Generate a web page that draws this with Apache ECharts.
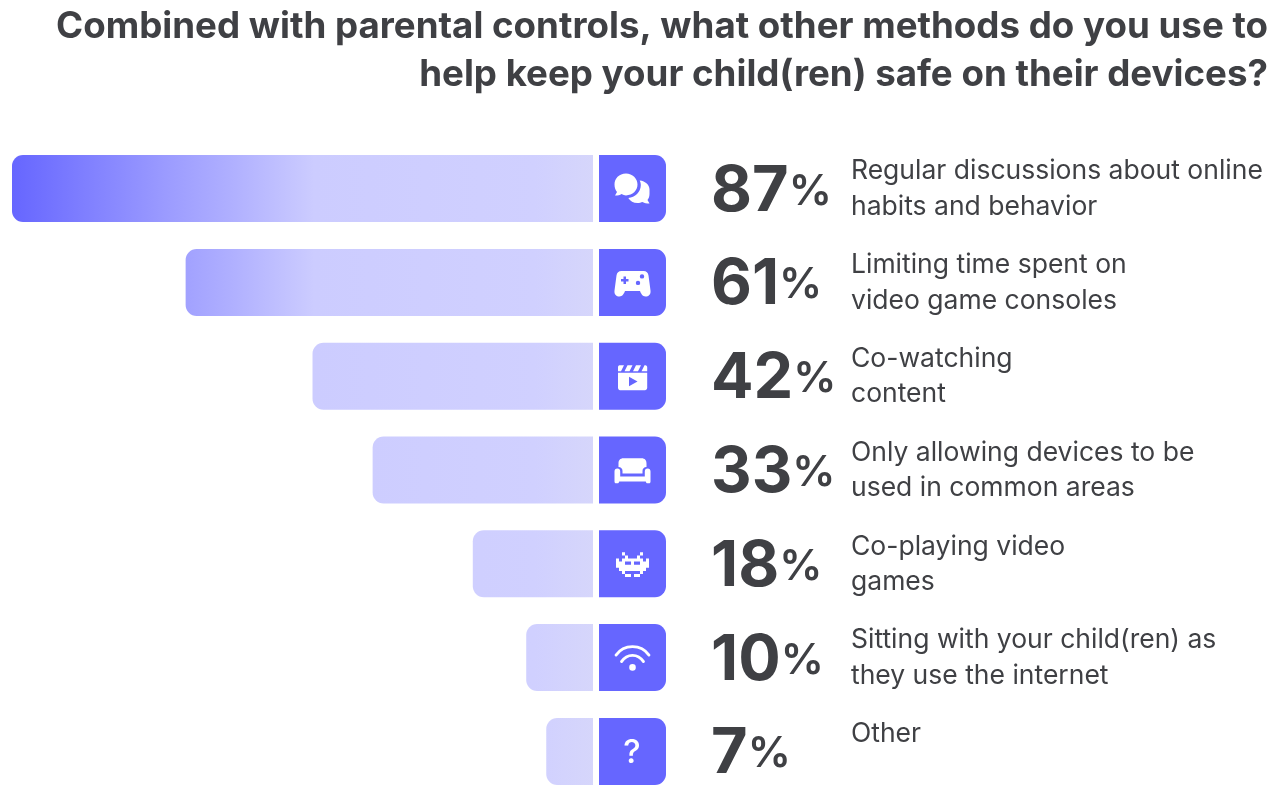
<!DOCTYPE html>
<html><head><meta charset="utf-8">
<style>html,body{margin:0;padding:0;background:#fff}#c{width:1280px;height:800px}</style>
<script src="https://cdn.jsdelivr.net/npm/echarts@6/dist/echarts.min.js"></script>
</head><body><div id="c"></div>
<script>
const titleText = "Combined with parental controls, what other methods do you use to\nhelp keep your child(ren) safe on their devices?";
const categories = ["Regular discussions about online\nhabits and behavior","Limiting time spent on\nvideo game consoles","Co-watching\ncontent","Only allowing devices to be\nused in common areas","Co-playing video\ngames","Sitting with your child(ren) as\nthey use the internet","Other"];
const values = [87,61,42,33,18,10,7];
const iconNames = ["chat","pad","clap","sofa","invader","wifi","help"];

const TILE = "#6666ff", INK = "#3f4044";
const FRAME = "M0 0L0 0M40 40L40 40";
const invaderRows = ["..#.....#..","...#...#...","#.#######.#","###..#..###","###########",".#########.","..#.....#..","...##.##..."];
function invaderPath(){
  let d = "";
  invaderRows.forEach((row,r)=>{[...row].forEach((c,k)=>{
    if(c==="#"){const x=3.5+k*3,y=8.5+r*3.1;d+=`M${x} ${y}h3v3.1h-3z`;}
  });});
  return d;
}
const ICONS = {
  chat:[["w","M13.500 5C6.500 5 2 10 2 16C2 19 3 21.500 4.500 23.500L2.500 27C5.500 27 7.500 26.500 9 25.500C10.500 26.300 12 26.800 13.500 26.800C20 26.800 25 22 25 16C25 10 20 5 13.500 5Z"],
        ["w","M27.200 12C28 13.500 28.300 15 28.300 16.500C28.300 23.500 22.500 29 15.800 29.500C17.500 32.500 21 34.500 25 34.500C27 34.500 28.500 34 30 33.500C32 34.500 34 35 37 35L35 31.500C36.200 30 37 28 37 25.500V21C37 16.500 33 12.500 27.200 12Z"]],
  pad:[["w","M9 8.500H31C34 8.500 35.500 10 36 13L38 28C38.500 32 36 34 33 34C30 34 28.500 31 27.500 28.500H12.500C11.500 31 10 34 7 34C4 34 1.500 32 2 28L4 13C4.500 10 6 8.500 9 8.500Z"],
       ["t","M8.500 16.500H11V14H13.500V16.500H16V19H13.500V21.500H11V19H8.500Z"],
       ["t","M29.500 11.800a2.200 2.200 0 1 0 0.010 0Z"],
       ["t","M25.500 18.300a2.200 2.200 0 1 0 0.010 0Z"]],
  clap:[["w","M7 9H11.500L8.500 15H5.500V11C5.500 10 6 9 7 9ZM15 9H20L17 15H12ZM23.500 9H28.500L25.500 15H20.500ZM32 9H33C34 9 34.700 10 34.700 11V15H29Z"],
        ["w","M5.500 16.500H34.700V31.500C34.700 33 33.500 34 32.500 34H7.500C6.500 34 5.500 33 5.500 31.500Z"],
        ["t","M16.500 20.500L25 25.300L16.500 30Z"]],
  sofa:[["w","M11 8.300H29C32.500 8.300 34 10.500 34 13.500V17C31.500 17.200 30 18.500 30 21V23.500H10V21C10 18.500 8.500 17.200 6 17V13.500C6 10.500 7.500 8.300 11 8.300Z"],
        ["w","M4.800 18.500C6.800 18.500 7.700 19.500 7.700 21.500V26.500H32.300V21.500C32.300 19.500 33.200 18.500 35.200 18.500C37 18.500 38 19.500 38 21.500V31.500C38 32.500 37.500 33.300 36.500 33.300H35C34 33.300 33.500 32.500 33.300 31.500H6.700C6.500 32.500 6 33.300 5 33.300H3.500C2.500 33.300 2 32.500 2 31.500V21.500C2 19.500 3 18.500 4.800 18.500Z"]],
  invader:[["w",invaderPath()]],
  wifi:[["s","M3.500 17.500C8 11 14 9 20 9C26 9 32 11 36.500 17.500"],
        ["s","M9 24C12 19.500 16 17.700 20 17.700C24 17.700 28 19.500 31 24"],
        ["w","M20 26.500a3.300 3.300 0 1 0 0.010 0Z"]],
  help:[]
};

const chart = echarts.init(document.getElementById("c"));
const barFill = new echarts.graphic.LinearGradient(12,0,593,0,[
  {offset:0,color:"#6666ff"},{offset:0.27,color:"#9c9cff"},{offset:0.38,color:"#b0b0ff"},
  {offset:0.47,color:"#c2c2ff"},{offset:0.52,color:"#ccccff"},{offset:0.9,color:"#d0d0ff"},{offset:1,color:"#d6d6fb"}],true);

function renderRow(params, api){
  const i = api.value(1);
  const p = api.coord([0,i]);
  const bandH = api.size([0,1])[1];
  const tileH = bandH*0.714, tileW = 67, cx = p[0]+tileW/2, cy = p[1];
  const kids = [{type:"rect",shape:{x:p[0],y:cy-tileH/2,width:tileW,height:tileH,r:[0,11,11,0]},style:{fill:TILE}}];
  const name = iconNames[i];
  ICONS[name].forEach(l=>{
    const isStroke = l[0]==="s";
    kids.push({type:"path",shape:{pathData:FRAME+l[1],x:cx-20,y:cy-20,width:40,height:40,layout:"cover"},
      style:{fill:isStroke?"none":(l[0]==="w"?"#fff":TILE),stroke:isStroke?"#fff":"none",lineWidth:isStroke?2.8:0,lineCap:"round"}});
  });
  if(name==="help") kids.push({type:"text",x:cx-0.5,y:cy+2,style:{text:"?",fill:"#fff",font:"500 33px Inter",textAlign:"center",textVerticalAlign:"middle"}});
  kids.push({type:"text",x:p[0]+112,y:cy+3,style:{
    text:`{n|${values[i]}}{p|%}`,textAlign:"left",textVerticalAlign:"middle",
    rich:{n:{font:"700 63px Inter",fill:INK,lineHeight:70},
          p:{font:"600 43px Inter",fill:INK,lineHeight:70}}}});
  kids.push({type:"text",x:p[0]+252,y:cy-35,style:{text:categories[i],fill:INK,font:"400 26.500px Inter",lineHeight:35.5,textAlign:"left",textVerticalAlign:"top"}});
  return {type:"group",children:kids};
}

chart.setOption({
  animation:false,
  title:{text:titleText,left:1263,top:-2,textAlign:"right",textStyle:{fontFamily:"Inter",fontWeight:700,fontSize:36.7,color:INK,lineHeight:48}},
  grid:[{left:12,width:581,top:141.7,height:656.6},{left:599,width:67,top:141.7,height:656.6}],
  xAxis:[
    {gridIndex:0,type:"value",min:0,max:87,inverse:true,show:false},
    {gridIndex:1,type:"value",min:0,max:1,show:false}],
  yAxis:[
    {gridIndex:0,type:"category",data:categories,inverse:true,show:false},
    {gridIndex:1,type:"category",data:categories,inverse:true,show:false}],
  series:[
    {type:"bar",xAxisIndex:0,yAxisIndex:0,data:values,barWidth:"71.4%",itemStyle:{color:barFill,borderRadius:[11,0,0,11]},silent:true},
    {type:"custom",xAxisIndex:1,yAxisIndex:1,renderItem:renderRow,data:categories.map((c,i)=>[0,i]),encode:{x:0,y:1},clip:false,silent:true}
  ]
});
</script></body></html>
